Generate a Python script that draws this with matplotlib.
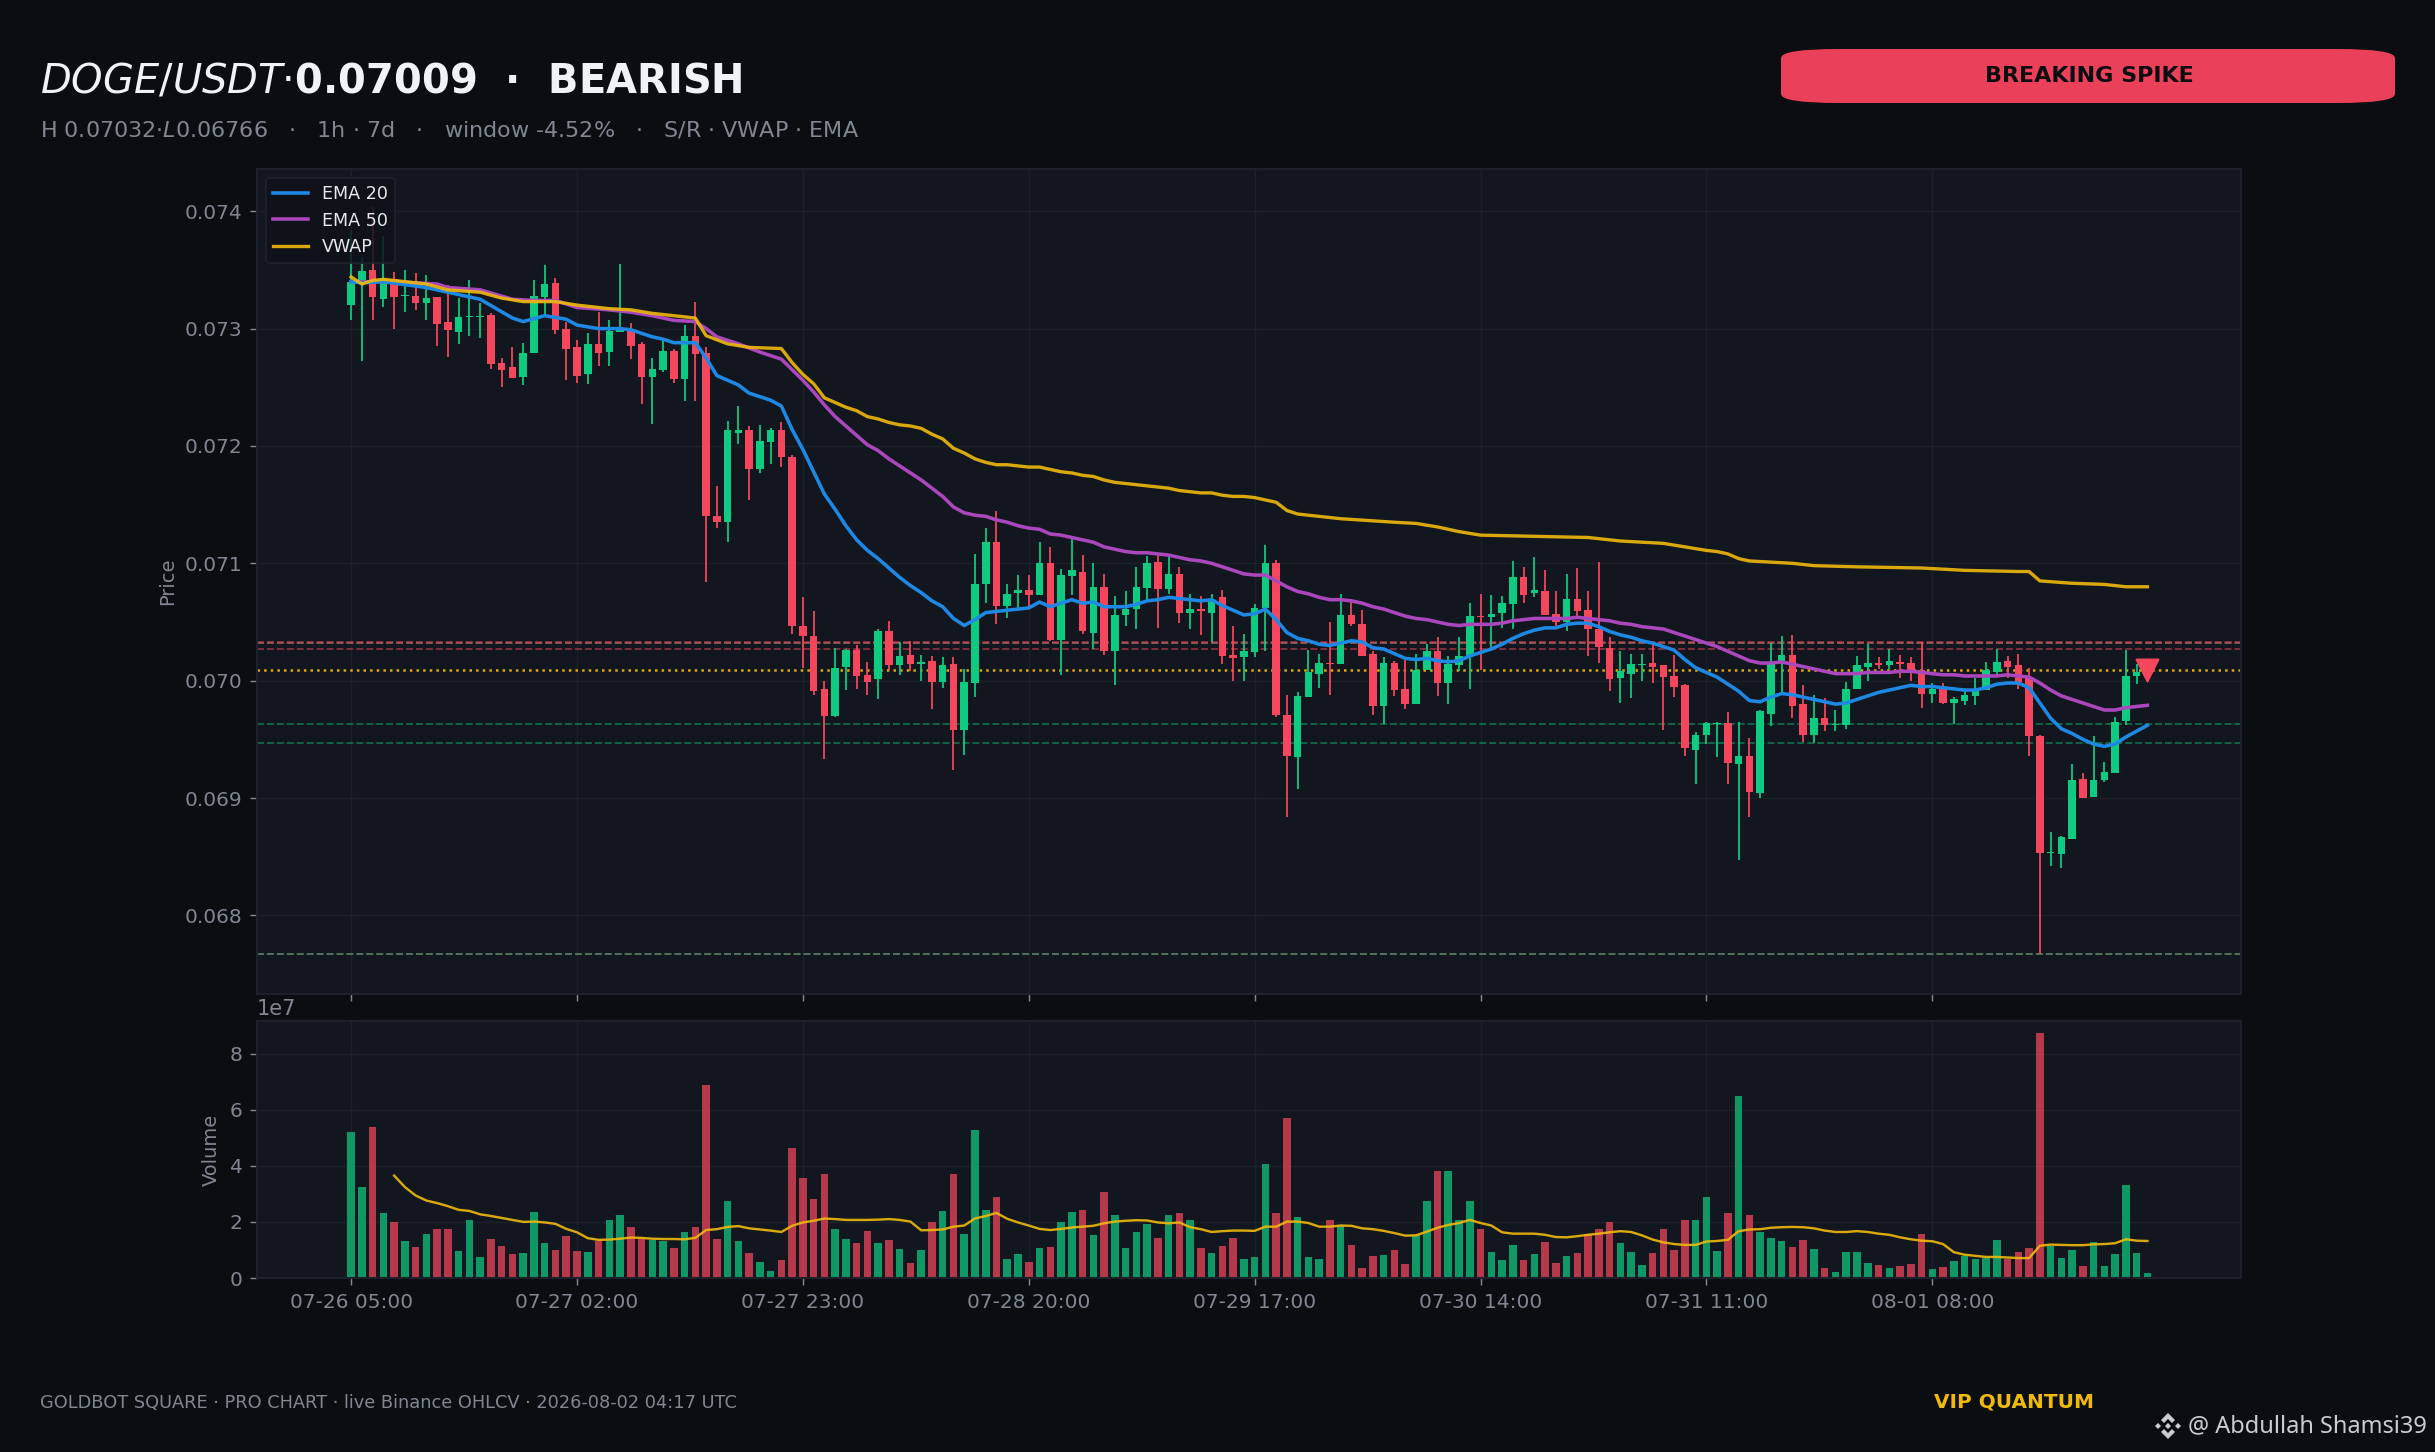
#!/usr/bin/env python3
"""DOGE/USDT 1h candles with EMA, VWAP, S/R levels and volume panel."""
import numpy as np
import matplotlib
matplotlib.use("Agg")
import matplotlib.pyplot as plt
from matplotlib.patches import FancyBboxPatch, Polygon
from matplotlib.ticker import MultipleLocator, FormatStrFormatter

# prices in units of 1e-5 USDT, one hourly candle each
open_ = [7320,7341,7350,7325,7342,7328,7328,7322,7327,7306,
         7297,7310,7310,7312,7271,7267,7259,7279,7327,7339,
         7300,7284,7261,7287,7280,7297,7300,7287,7259,7265,
         7281,7257,7294,7279,7140,7135,7211,7214,7180,7203,
         7214,7191,7047,7038,6993,6970,7012,7026,7005,7001,
         7042,7013,7022,7014,7017,6999,7014,6958,6998,7082,
         7118,7064,7075,7077,7073,7100,7035,7089,7093,7041,
         7080,7025,7056,7061,7079,7101,7078,7091,7058,7061,
         7058,7071,7022,7020,7024,7062,7100,6971,6935,6986,
         7006,7015,7014,7056,7048,7023,6978,7015,6993,6980,
         7009,7025,6998,7013,7021,7055,7054,7058,7065,7088,
         7075,7076,7057,7050,7070,7060,7044,7028,7002,7006,
         7013,7015,7013,7004,6996,6941,6954,6963,6964,6929,
         6936,6904,6972,7016,7022,6980,6954,6968,6962,6962,
         6993,7012,7015,7013,7016,7015,7009,6989,6993,6981,
         6983,6987,6992,7007,7017,7013,7003,6953,6853,6852,
         6865,6916,6901,6915,6921,6966,7004,7007]
close = [7340,7349,7327,7342,7327,7329,7322,7326,7304,7299,
         7310,7311,7311,7270,7265,7258,7279,7328,7338,7299,
         7283,7260,7287,7279,7298,7299,7285,7259,7266,7281,
         7257,7294,7278,7140,7135,7214,7214,7180,7204,7214,
         7191,7047,7038,6991,6970,7011,7026,7004,6999,7042,
         7013,7021,7014,7016,6999,7013,6958,6999,7082,7118,
         7064,7074,7077,7073,7100,7035,7090,7094,7042,7080,
         7025,7056,7061,7080,7100,7078,7091,7058,7061,7059,
         7070,7021,7019,7025,7062,7100,6971,6936,6987,7007,
         7015,7014,7056,7048,7021,6978,7015,6992,6980,7009,
         7025,6998,7014,7021,7055,7054,7057,7066,7088,7073,
         7077,7056,7050,7070,7059,7044,7029,7001,7008,7014,
         7014,7012,7003,6995,6943,6954,6964,6964,6930,6936,
         6905,6974,7014,7022,6978,6954,6968,6962,6963,6993,
         7013,7015,7013,7017,7014,7009,6989,6993,6981,6984,
         6988,6991,7009,7016,7012,6999,6953,6853,6854,6867,
         6915,6900,6915,6922,6965,7004,7007,7009]
high = [7384,7360,7404,7379,7348,7350,7347,7346,7327,7337,
        7326,7341,7322,7313,7275,7284,7288,7341,7354,7343,
        7306,7290,7296,7314,7307,7355,7305,7289,7275,7290,
        7283,7303,7323,7284,7166,7221,7234,7217,7218,7215,
        7220,7192,7071,7059,7000,7028,7027,7030,7016,7044,
        7051,7033,7034,7022,7021,7020,7020,7010,7108,7130,
        7145,7082,7090,7090,7118,7114,7095,7121,7107,7100,
        7091,7072,7076,7097,7106,7109,7105,7097,7074,7072,
        7074,7077,7047,7040,7065,7116,7103,6988,6990,7026,
        7023,7050,7074,7070,7060,7025,7020,7017,7019,7023,
        7031,7037,7021,7037,7066,7074,7073,7072,7102,7097,
        7105,7094,7076,7091,7096,7076,7101,7037,7025,7023,
        7023,7031,7013,7022,6997,6956,6965,6965,6973,6965,
        6951,6975,7032,7038,7039,6996,6988,6985,6975,6999,
        7021,7031,7020,7027,7022,7020,7033,6998,6998,6986,
        6991,7002,7016,7027,7021,7023,7011,6954,6871,6868,
        6929,6921,6953,6931,6969,7026,7014,7012]
low = [7307,7272,7307,7318,7300,7314,7316,7307,7285,7276,
       7287,7294,7292,7266,7250,7258,7252,7279,7311,7295,
       7256,7254,7253,7268,7268,7297,7274,7236,7219,7263,
       7254,7238,7238,7084,7130,7118,7202,7154,7177,7185,
       7182,7040,7011,6988,6933,6969,6992,6993,6988,6984,
       7009,7005,7008,7000,6976,6994,6924,6937,6986,7066,
       7048,7053,7061,7064,7073,7034,7005,7073,7040,7027,
       7022,6996,7047,7044,7068,7045,7074,7049,7044,7039,
       7033,7014,7000,7000,7020,7025,6969,6884,6908,6986,
       6994,6988,7014,7047,7021,6971,6963,6987,6976,6980,
       7009,6987,6980,7008,6993,7009,7025,7045,7044,7066,
       7071,7056,7047,7042,7054,7021,7015,6991,6981,6985,
       7000,6998,6958,6986,6936,6912,6946,6935,6912,6847,
       6884,6900,6961,6989,6968,6948,6947,6957,6957,6959,
       6993,7000,7010,7010,7002,7000,6977,6981,6980,6963,
       6979,6979,6992,7005,7002,6993,6936,6767,6842,6840,
       6865,6900,6901,6914,6921,6962,6997,7005]

# volume in units of 1e7
volume = [5.19,3.23,5.37,2.33,2.01,1.33,1.12,1.58,1.76,1.73,
          0.98,2.08,0.76,1.40,1.15,0.87,0.90,2.37,1.23,1.01,
          1.48,0.98,0.94,1.33,2.05,2.23,1.80,1.39,1.37,1.33,
          1.08,1.65,1.83,6.87,1.40,2.73,1.33,0.90,0.58,0.26,
          0.65,4.62,3.58,2.83,3.69,1.73,1.40,1.26,1.69,1.26,
          1.37,1.05,0.55,1.01,2.01,2.40,3.69,1.58,5.26,2.44,
          2.87,0.69,0.87,0.58,1.08,1.12,1.98,2.37,2.44,1.55,
          3.05,2.26,1.08,1.65,1.94,1.44,2.23,2.30,2.08,1.08,
          0.90,1.15,1.44,0.69,0.76,4.05,2.30,5.69,2.19,0.76,
          0.69,2.08,1.87,1.19,0.37,0.80,0.83,1.01,0.51,1.55,
          2.73,3.80,3.83,2.08,2.76,1.73,0.94,0.65,1.19,0.65,
          0.87,1.30,0.55,0.80,0.90,1.58,1.76,1.98,1.23,0.94,
          0.48,0.90,1.73,1.01,2.08,2.05,2.90,0.98,2.33,6.48,
          2.23,1.65,1.44,1.33,1.12,1.37,1.05,0.37,0.23,0.94,
          0.94,0.55,0.48,0.37,0.44,0.51,1.58,0.33,0.40,0.62,
          0.80,0.69,0.73,1.37,0.69,0.94,1.08,8.73,1.15,0.73,
          1.01,0.44,1.30,0.44,0.87,3.30,0.90,0.19]

vol_ma_start = 4
vol_ma = [3.65,3.24,2.94,2.76,2.67,2.56,2.43,2.39,2.27,2.21,2.14,2.07,2.00,2.01,1.98,1.93,
          1.75,1.63,1.42,1.36,1.37,1.40,1.44,1.43,1.40,1.39,1.39,1.38,1.43,1.71,1.74,1.82,
          1.85,1.77,1.73,1.69,1.64,1.86,1.98,2.04,2.12,2.10,2.07,2.07,2.07,2.08,2.10,2.07,
          2.01,1.70,1.71,1.73,1.83,1.87,2.12,2.21,2.32,2.11,1.98,1.87,1.75,1.71,1.75,1.80,
          1.83,1.86,1.95,2.01,2.04,2.06,2.05,1.98,1.95,1.98,1.81,1.74,1.64,1.67,1.69,1.69,
          1.68,1.83,1.83,2.01,2.01,1.96,1.83,1.83,1.87,1.86,1.77,1.74,1.68,1.60,1.51,1.52,
          1.65,1.79,1.89,1.96,2.07,1.96,1.87,1.63,1.58,1.58,1.58,1.54,1.46,1.45,1.49,1.54,
          1.58,1.63,1.67,1.64,1.52,1.37,1.27,1.21,1.18,1.18,1.30,1.32,1.36,1.67,1.73,1.74,
          1.79,1.81,1.82,1.81,1.77,1.69,1.64,1.64,1.67,1.64,1.58,1.54,1.45,1.38,1.33,1.31,
          1.21,0.92,0.83,0.79,0.75,0.75,0.73,0.71,0.71,1.15,1.19,1.18,1.17,1.17,1.20,1.21,
          1.24,1.38,1.33,1.32]

ema20_x = [0,1,3,7,12,15,16,18,20,21,23,25,26,28,29,30,32,33,34,36,37,38,39,40,41,42,44,45,46,47,48,49,50,51,52,53,54,55,56,57,
           58,59,60,62,63,64,65,66,67,68,69,70,71,72,73,74,75,76,77,79,80,81,82,83,84,85,86,87,88,89,90,91,92,93,94,95,96,97,98,99,
           100,101,102,103,104,105,106,107,108,109,110,111,112,113,114,115,116,117,118,119,120,121,122,123,124,125,126,127,128,129,
           130,131,132,133,134,135,136,137,138,139,140,141,142,143,144,145,146,147,148,149,150,151,152,153,154,155,156,157,158,159,
           160,161,162,163,164,165,166,167]
ema20_y = [7340,7339,7340,7335,7325,7309,7306,7311,7308,7303,7300,7300,7299,7293,7291,7288,7288,7275,7260,7252,7245,7242,7239,7234,7214,7197,
           7159,7146,7132,7120,7111,7104,7096,7088,7081,7075,7068,7063,7053,7047,
           7052,7058,7059,7061,7062,7067,7063,7066,7069,7066,7067,7063,7063,7063,7065,7068,7069,7071,7070,7068,7069,7064,7060,7056,7057,7061,7052,7041,7036,7034,7031,7030,7032,7034,7033,7028,7027,7023,7019,7018,
           7019,7017,7016,7017,7021,7024,7027,7031,7036,7040,7043,7045,7045,7048,7049,7049,7046,7042,7039,7037,7034,7032,7029,7026,7018,7011,7007,7003,6997,6991,
           6983,6982,6986,6989,6988,6986,6984,6982,6980,6981,6984,6987,6990,6992,6994,6996,6995,6995,6994,6993,6992,6992,6994,6997,6998,6998,6994,6981,6968,6959,
           6955,6950,6946,6944,6946,6952,6957,6962]

ema50_x = [0,2,4,8,9,12,15,17,19,21,24,26,28,30,32,33,34,36,38,40,41,42,43,44,45,46,47,48,49,50,51,52,53,54,55,56,57,58,59,
           60,61,62,63,64,65,66,67,68,69,70,71,72,73,74,75,76,77,78,79,80,81,82,83,84,85,86,87,88,89,90,91,92,93,94,95,96,97,98,99,
           100,101,102,103,104,105,106,107,108,109,110,111,112,113,114,115,116,117,118,119,120,121,122,123,124,125,126,127,128,129,
           130,131,132,133,134,135,136,137,138,139,140,141,142,143,144,145,146,147,148,149,150,151,152,153,154,155,156,157,158,159,
           160,161,162,163,164,165,166,167]
ema50_y = [7340,7340,7340,7338,7335,7333,7325,7324,7324,7318,7316,7314,7311,7307,7306,7300,7293,7287,7280,7274,7265,7256,7246,7235,7225,7217,
           7209,7201,7196,7189,7183,7177,7171,7164,7157,7148,7143,7141,7140,
           7137,7135,7132,7130,7129,7125,7124,7122,7120,7118,7114,7112,7110,7109,7109,7108,7107,7105,7103,7102,7100,7097,7094,7091,7090,7090,7085,7080,7076,7074,7071,7069,7069,7068,7066,7063,7061,7058,7055,7053,
           7052,7050,7048,7047,7048,7048,7048,7049,7051,7052,7053,7053,7053,7053,7054,7053,7052,7051,7049,7048,7046,7045,7044,7041,7038,7035,7032,7029,7025,7021,
           7017,7015,7015,7016,7014,7012,7010,7008,7006,7006,7006,7007,7007,7007,7008,7008,7007,7006,7005,7005,7004,7004,7004,7004,7005,7004,7003,6998,6992,6987,
           6984,6981,6978,6975,6975,6977,6978,6979]

vwap_x = [0,1,2,3,5,7,9,12,14,16,19,21,24,26,28,30,32,33,35,37,40,41,42,43,44,45,46,47,48,49,50,51,52,53,54,55,56,57,58,59,
          60,61,62,63,64,65,66,67,68,69,70,71,72,73,74,75,76,77,78,79,80,81,82,83,84,85,86,87,88,92,97,99,101,103,105,110,115,118,122,124,126,127,128,129,130,134,136,140,146,150,155,156,157,160,163,165,167]
vwap_y = [7344,7338,7341,7342,7340,7338,7333,7331,7326,7323,7323,7320,7317,7316,7313,7311,7309,7294,7287,7284,7283,7271,7261,7253,7241,7237,7233,7230,7225,7223,7220,7218,7217,7215,7210,7206,7198,7194,7189,7186,
          7184,7184,7183,7182,7182,7180,7178,7177,7175,7174,7171,7169,7168,7167,7166,7165,7164,7162,7161,7160,7160,7158,7157,7157,7156,7154,7152,7145,7142,7138,7135,7134,7131,7127,7124,7123,7122,7119,7117,7114,7111,7110,7108,7104,7102,7100,7098,7097,7096,7094,7093,7093,7085,7083,7082,7080,7080]

# support / resistance levels
red_levels = [7033, 7032, 7027, 6767]
green_levels = [7032, 6963, 6947, 6767]
vwap_level = 7009

tick_pos = [0, 21, 42, 63, 84, 105, 126, 147]
tick_labels = ["07-26 05:00", "07-27 02:00", "07-27 23:00", "07-28 20:00",
               "07-29 17:00", "07-30 14:00", "07-31 11:00", "08-01 08:00"]

W, H = 2435, 1452
DPI = 150
BG = "#0a0e11"
PANEL = "#12161e"
GRID = "#1b1f28"
SPINE = "#1d212b"
MUTED = "#7f8791"
UP = "#0ecb81"
DOWN = "#f6465d"
BLUE = "#1e88e5"
PURPLE = "#ab47bc"
GOLD = "#f0b90b"

def axes_rect(x0, y0, x1, y1):
    return [x0 / W, 1 - y1 / H, (x1 - x0) / W, (y1 - y0) / H]

def style(ax):
    ax.set_facecolor(PANEL)
    ax.grid(True, color=GRID, lw=0.7)
    ax.set_axisbelow(True)
    for s in ax.spines.values():
        s.set_color(SPINE)
        s.set_linewidth(1.0)
    ax.tick_params(colors=MUTED, labelsize=9.7, length=3.5, width=0.7)

o, c, hi, lo = [np.array(v) * 1e-5 for v in (open_, close, high, low)]
vol = np.array(volume) * 1e7
x = np.arange(len(o))
up = c >= o

fig = plt.figure(figsize=(W / DPI, H / DPI), dpi=DPI, facecolor=BG)
ax = fig.add_axes(axes_rect(257, 169, 2241, 994))
axv = fig.add_axes(axes_rect(257, 1021, 2241, 1278))
style(ax)
style(axv)

# candles
ax.vlines(x[up], lo[up], hi[up], color=UP, lw=0.85, zorder=2)
ax.vlines(x[~up], lo[~up], hi[~up], color=DOWN, lw=0.85, zorder=2)
ax.bar(x[up], (c - o)[up], bottom=o[up], width=0.7, color=UP, zorder=3)
ax.bar(x[~up], (o - c)[~up], bottom=c[~up], width=0.7, color=DOWN, zorder=3)

# levels: the lowest one reads green on top of red, the upper band red on top of green
for lv in red_levels:
    ax.axhline(lv * 1e-5, color=DOWN, lw=0.9, ls="--", alpha=0.5, zorder=1.5)
for lv in green_levels:
    ax.axhline(lv * 1e-5, color=UP, lw=0.9, ls="--", alpha=0.45, zorder=1.6 if lv < 6800 else 1.4)
ax.axhline(vwap_level * 1e-5, color=GOLD, lw=1.2, ls=":", alpha=0.9, zorder=1.7)

ax.plot(ema20_x, np.array(ema20_y) * 1e-5, color=BLUE, lw=1.7, label="EMA 20", zorder=5)
ax.plot(ema50_x, np.array(ema50_y) * 1e-5, color=PURPLE, lw=1.7, label="EMA 50", zorder=4)
ax.plot(vwap_x, np.array(vwap_y) * 1e-5, color=GOLD, lw=1.6, alpha=0.9, label="VWAP", zorder=6)
ax.scatter([x[-1]], [c[-1]], marker="v", s=110, color=DOWN, zorder=8)

ax.set_xlim(-8.75, 175.7)
ax.set_ylim(0.06733, 0.07436)
ax.yaxis.set_major_locator(MultipleLocator(0.001))
ax.yaxis.set_major_formatter(FormatStrFormatter("%.3f"))
ax.set_xticks(tick_pos)
ax.tick_params(axis="x", labelbottom=False)
ax.set_ylabel("Price", color=MUTED, fontsize=9.3)
ax.yaxis.set_label_coords(-0.0405, 0.5)
leg = ax.legend(loc="upper left", fontsize=8.4, facecolor="#0f1218", edgecolor=SPINE,
                framealpha=0.85, labelcolor="#e6e8eb", borderaxespad=0.5)
leg.set_zorder(10)

# volume panel
axv.bar(x, vol, width=0.7, color=[UP if u else DOWN for u in up], alpha=0.72, zorder=2)
axv.plot(x[vol_ma_start:], np.array(vol_ma) * 1e7, color=GOLD, lw=1.15, alpha=0.9, zorder=3)
axv.set_xlim(-8.75, 175.7)
axv.set_ylim(0, 9.16e7)
axv.set_yticks([0, 2e7, 4e7, 6e7, 8e7])
axv.set_xticks(tick_pos)
axv.set_xticklabels(tick_labels)
axv.set_ylabel("Volume", color=MUTED, fontsize=9.3)
axv.yaxis.set_label_coords(-0.0182, 0.5)
axv.yaxis.get_offset_text().set_color(MUTED)
axv.yaxis.get_offset_text().set_fontsize(10)

# header and footer, placed in picture pixels
top = fig.add_axes([0, 0, 1, 1], facecolor="none", zorder=20)
top.set_xlim(0, W)
top.set_ylim(H, 0)
top.axis("off")

top.text(40, 93, "$DOGE/USDT·$0.07009  ·  BEARISH", color="#f0f2f5", fontsize=19.2,
         fontweight="bold", va="baseline")
top.text(40, 136, "H $0.07032·L$0.06766   ·   1h · 7d   ·   window -4.52%   ·   S/R · VWAP · EMA",
         color=MUTED, fontsize=10.7, va="baseline")

pill = FancyBboxPatch((1781, 49), 614, 54, boxstyle="round,pad=0,rounding_size=57",
                      mutation_aspect=0.16, fc="#ea4059", ec="none")
top.add_patch(pill)
top.text(2089, 76.5, "BREAKING SPIKE", color="#0b0e11", fontsize=10.7, fontweight="bold",
         ha="center", va="center")

top.text(40, 1402.5, "GOLDBOT SQUARE · PRO CHART · live Binance OHLCV · 2026-08-02 04:17 UTC",
         color=MUTED, fontsize=8.55, va="center")
top.text(1934, 1402, "VIP QUANTUM", color=GOLD, fontsize=9.6, fontweight="bold", va="center")
top.text(2188, 1426, "@ Abdullah Shamsi39", color="#c9ccd0", fontsize=11.3, family="Noto Sans",
         va="center")

# small diamond logo next to the handle
LOGO = "#c9ccd0"
cx, cy = 2168, 1426
for pts in ([(0, -13), (7, -6), (4, -3), (0, -7), (-4, -3), (-7, -6)],
            [(0, 13), (7, 6), (4, 3), (0, 7), (-4, 3), (-7, 6)],
            [(0, -3), (3, 0), (0, 3), (-3, 0)],
            [(-10, -3), (-7, 0), (-10, 3), (-13, 0)],
            [(10, -3), (13, 0), (10, 3), (7, 0)]):
    top.add_patch(Polygon([(cx + a, cy + b) for a, b in pts], closed=True, fc=LOGO, ec="none"))

fig.savefig("out.png", dpi=DPI, facecolor=BG)
